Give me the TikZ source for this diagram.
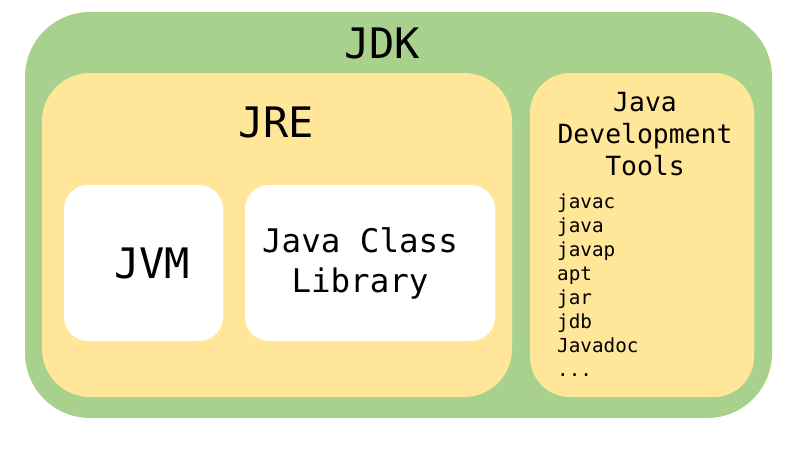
\documentclass[tikz,border=0pt]{standalone}
\usepackage{fontspec}
\setmainfont{DejaVu Sans Mono}
\definecolor{jdkgreen}{HTML}{A9D18E}
\definecolor{jreyellow}{HTML}{FFE699}
\tikzset{
  box/.style={rounded corners=#1, inner sep=0pt, draw=none},
  jdkbox/.style={box=65pt, fill=jdkgreen},
  jrebox/.style={box=48pt, fill=jreyellow},
  whitebox/.style={box=24pt, fill=white},
  biglabel/.style={inner sep=0pt, font=\fontsize{42}{50}\selectfont},
  midlabel/.style={inner sep=0pt, align=center, font=\fontsize{32.5}{40}\selectfont},
  toolslabel/.style={inner sep=0pt, align=center, font=\fontsize{26.4}{32}\selectfont},
  toollist/.style={inner sep=0pt, align=left, font=\fontsize{19.3}{24}\selectfont}
}
\begin{document}
\begin{tikzpicture}[x=1pt, y=-1pt]
\useasboundingbox[fill=white] (0,0) rectangle (800,450);
% outer and inner boxes
\node[jdkbox, minimum width=747pt, minimum height=406pt] (jdk) at (398.5,215) {};
\node[jrebox, minimum width=470pt, minimum height=324pt] (jre) at (277,235) {};
\node[jrebox, rounded corners=40pt, minimum width=224pt, minimum height=324pt] (tools) at (642,235) {};
\node[whitebox, minimum width=159pt, minimum height=156pt] (jvm) at (143.5,263) {};
\node[whitebox, minimum width=250pt, minimum height=156pt] (jcl) at (370,263) {};
% labels
\node[biglabel] (jdklabel) at (382,43) {JDK};
\node[biglabel] (jrelabel) at (276,122) {JRE};
\node[biglabel] (jvmlabel) at (152,263) {JVM};
\node[midlabel] (jcllabel) at (360,263) {Java Class\\Library};
\node[toolslabel] (toolslabel) at (645,134) {Java\\Development\\Tools};
\node[toollist, anchor=north west] (toollist) at (557,194) {javac\\java\\javap\\apt\\jar\\jdb\\Javadoc\\...};
\end{tikzpicture}
\end{document}
